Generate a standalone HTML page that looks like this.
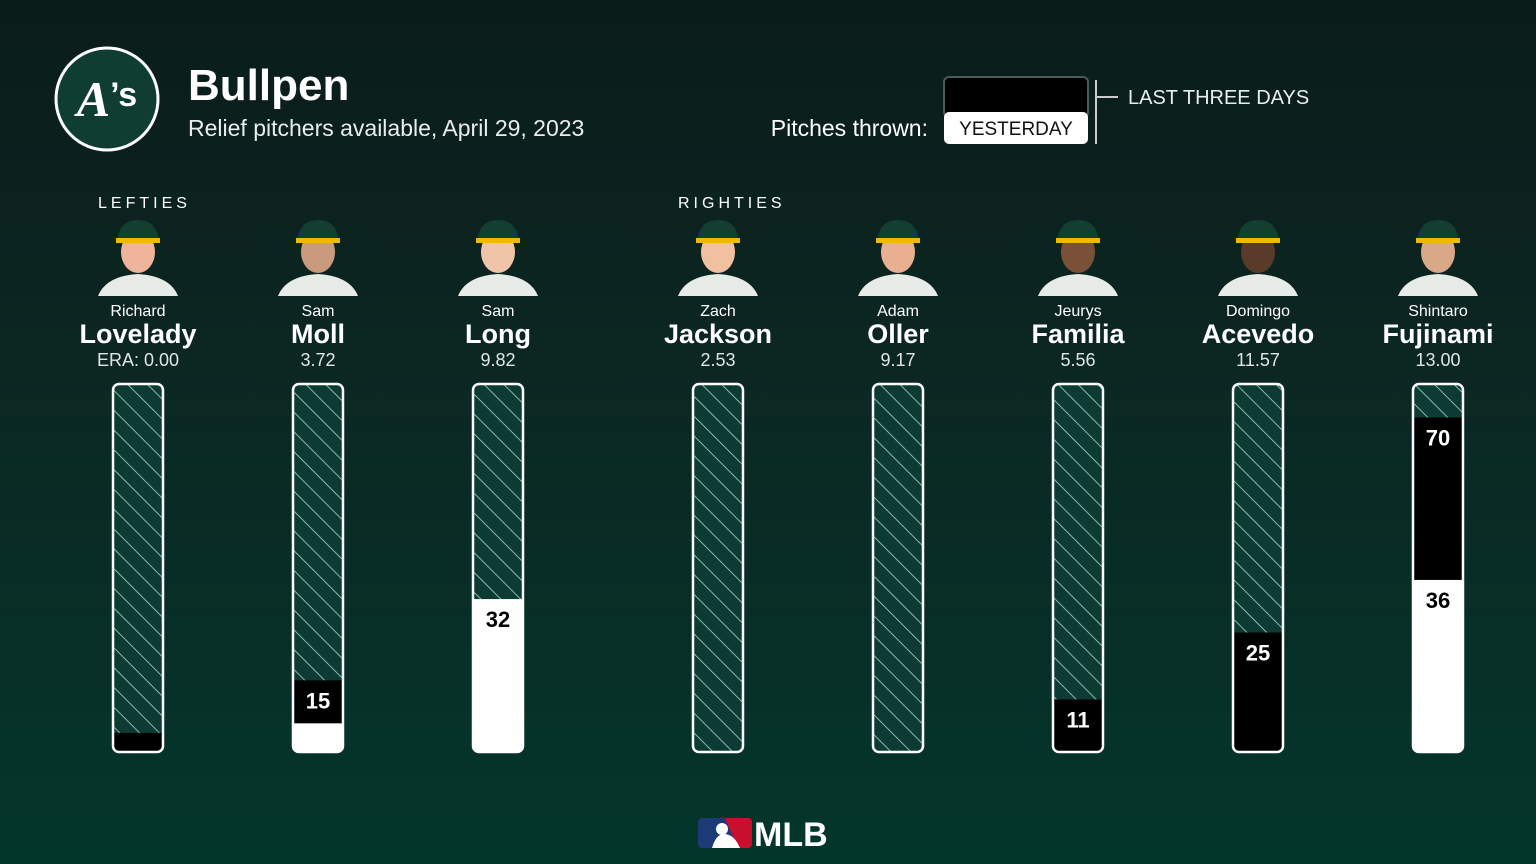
<!DOCTYPE html>
<html><head><meta charset="utf-8">
<style>
html,body{margin:0;padding:0;}
body{width:1536px;height:864px;overflow:hidden;background:linear-gradient(180deg,#0a1c1a 0%,#0c2622 40%,#03362b 100%);font-family:"Liberation Sans",sans-serif;}
svg{display:block}
</style></head>
<body>
<svg id="chart" width="1536" height="864" xmlns="http://www.w3.org/2000/svg">
<defs>
<pattern id="hatch" patternUnits="userSpaceOnUse" width="14" height="14" patternTransform="rotate(-45)">
<rect width="14" height="14" fill="#0d3a32"/>
<line x1="0" y1="0" x2="0" y2="14" stroke="#8ccbbd" stroke-width="1.8"/>
</pattern>
</defs>
<g>
<circle cx="107" cy="99" r="51" fill="#0f3d31" stroke="#fff" stroke-width="3"/>
<text x="107" y="116" text-anchor="middle" fill="#fff" font-family="Liberation Serif,serif" font-weight="bold" font-style="italic" font-size="50">A<tspan font-family="Liberation Sans,sans-serif" font-style="normal" font-size="34" dy="-10">’s</tspan></text>
</g>
<text x="188" y="100" fill="#fff" font-size="44" font-weight="bold">Bullpen</text>
<text x="188" y="136" fill="#e8eeec" font-size="23">Relief pitchers available, April 29, 2023</text>
<g>
<text x="928" y="136" text-anchor="end" fill="#fff" font-size="23">Pitches thrown:</text>
<rect x="944" y="77" width="144" height="40" rx="5" fill="#000" stroke="#4b5b58" stroke-width="2"/>
<rect x="944" y="112" width="144" height="32" rx="5" fill="#fff"/>
<text x="1016" y="135" text-anchor="middle" fill="#111" font-size="19">YESTERDAY</text>
<line x1="1096" y1="80" x2="1096" y2="144" stroke="#ccc" stroke-width="2"/>
<line x1="1096" y1="97" x2="1118" y2="97" stroke="#ccc" stroke-width="2"/>
<text x="1128" y="104" fill="#e8eeec" font-size="20">LAST THREE DAYS</text>
</g>
<text x="98" y="208" fill="#fff" font-size="16" letter-spacing="4">LEFTIES</text>
<text x="678" y="208" fill="#fff" font-size="16" letter-spacing="4">RIGHTIES</text>
<g id="cols"></g>
<g>
<rect x="698" y="818" width="54" height="30" rx="4" fill="#1d3a78"/>
<path d="M725 818 h23 a4 4 0 0 1 4 4 v22 a4 4 0 0 1 -4 4 h-10 z" fill="#c8102e"/>
<circle cx="722" cy="829" r="6" fill="#fff"/>
<path d="M712 848 q4 -14 12 -14 q10 0 16 14 z" fill="#fff"/>
<text x="754" y="846" fill="#fff" font-size="34" font-weight="bold">MLB</text>
</g>
</svg>
<script>
const firstNames=["Richard","Sam","Sam","Zach","Adam","Jeurys","Domingo","Shintaro"];
const lastNames=["Lovelady","Moll","Long","Jackson","Oller","Familia","Acevedo","Fujinami"];
const eras=["ERA: 0.00","3.72","9.82","2.53","9.17","5.56","11.57","13.00"];
const yesterday=[0,6,32,0,0,0,0,36];
const threeDays=[4,15,32,0,0,11,25,70];
const centers=[138,318,498,718,898,1078,1258,1438];
const maxPitches=77;
const barTop=384,barBottom=752,barW=50;
const ns="http://www.w3.org/2000/svg";
const g=document.getElementById('cols');
function y(v){return barBottom-(v/maxPitches)*(barBottom-barTop);}
function mk(tag,attrs,parent){const e=document.createElementNS(ns,tag);for(const k in attrs)e.setAttribute(k,attrs[k]);parent.appendChild(e);return e;}
const skin=["#f0b49a","#c99a7c","#f0c4a8","#f0c0a0","#e8b090","#7a5038","#5a3a28","#d8a888"];
for(let i=0;i<centers.length;i++){
 const cx=centers[i];
 const col=mk('g',{},g);
 
 
 const hs=mk('g',{},col);
 
 
 mk('path',{d:`M${cx-40} 296 q8 -20 40 -22 q32 2 40 22 z`,fill:"#e8ece8"},hs);
 mk('ellipse',{cx:cx,cy:252,rx:17,ry:21,fill:skin[i]},hs);
 mk('path',{d:`M${cx-21} 242 q2 -22 21 -22 q19 0 21 22 z`,fill:"#123f30"},hs);
 mk('rect',{x:cx-22,y:238,width:44,height:5,fill:"#f0b800"},hs);
 const t1=mk('text',{x:cx,y:316,'text-anchor':'middle',fill:'#fff','font-size':16},col);t1.textContent=firstNames[i];
 
 const t2=mk('text',{x:cx,y:343,'text-anchor':'middle',fill:'#fff','font-size':27,'font-weight':'bold'},col);t2.textContent=lastNames[i];
 
 const t3=mk('text',{x:cx,y:366,'text-anchor':'middle',fill:'#e0e6e4','font-size':18},col);t3.textContent=eras[i];
 
 const bx=cx-barW/2;
 const clipId='clip'+i;
 const cp=mk('clipPath',{id:clipId},col);
 mk('rect',{x:bx,y:barTop,width:barW,height:barBottom-barTop,rx:6},cp);
 const bar=mk('g',{'clip-path':`url(#${clipId})`},col);
 
 
 mk('rect',{x:bx,y:barTop,width:barW,height:barBottom-barTop,fill:'url(#hatch)'},bar);
 if(threeDays[i]>0){
  const r=mk('rect',{x:bx,y:y(threeDays[i]),width:barW,height:barBottom-y(threeDays[i]),fill:'#000'},bar);
  
  
 }
 if(yesterday[i]>0){
  const r=mk('rect',{x:bx,y:y(yesterday[i]),width:barW,height:barBottom-y(yesterday[i]),fill:'#fff'},bar);
  
  
 }
 mk('rect',{x:bx,y:barTop,width:barW,height:barBottom-barTop,rx:6,fill:'none',stroke:'#fff','stroke-width':2.5},col);
 if(threeDays[i]>yesterday[i] && (threeDays[i]-yesterday[i])>=8){
  const l=mk('text',{x:cx,y:y(threeDays[i])+28,'text-anchor':'middle',fill:'#fff','font-size':22,'font-weight':'bold'},col);
  l.textContent=threeDays[i];
  
  
 }
 if(yesterday[i]>=10){
  const l=mk('text',{x:cx,y:y(yesterday[i])+28,'text-anchor':'middle',fill:'#000','font-size':22,'font-weight':'bold'},col);
  l.textContent=yesterday[i];
  
  
 }
}
</script>
</body></html>
